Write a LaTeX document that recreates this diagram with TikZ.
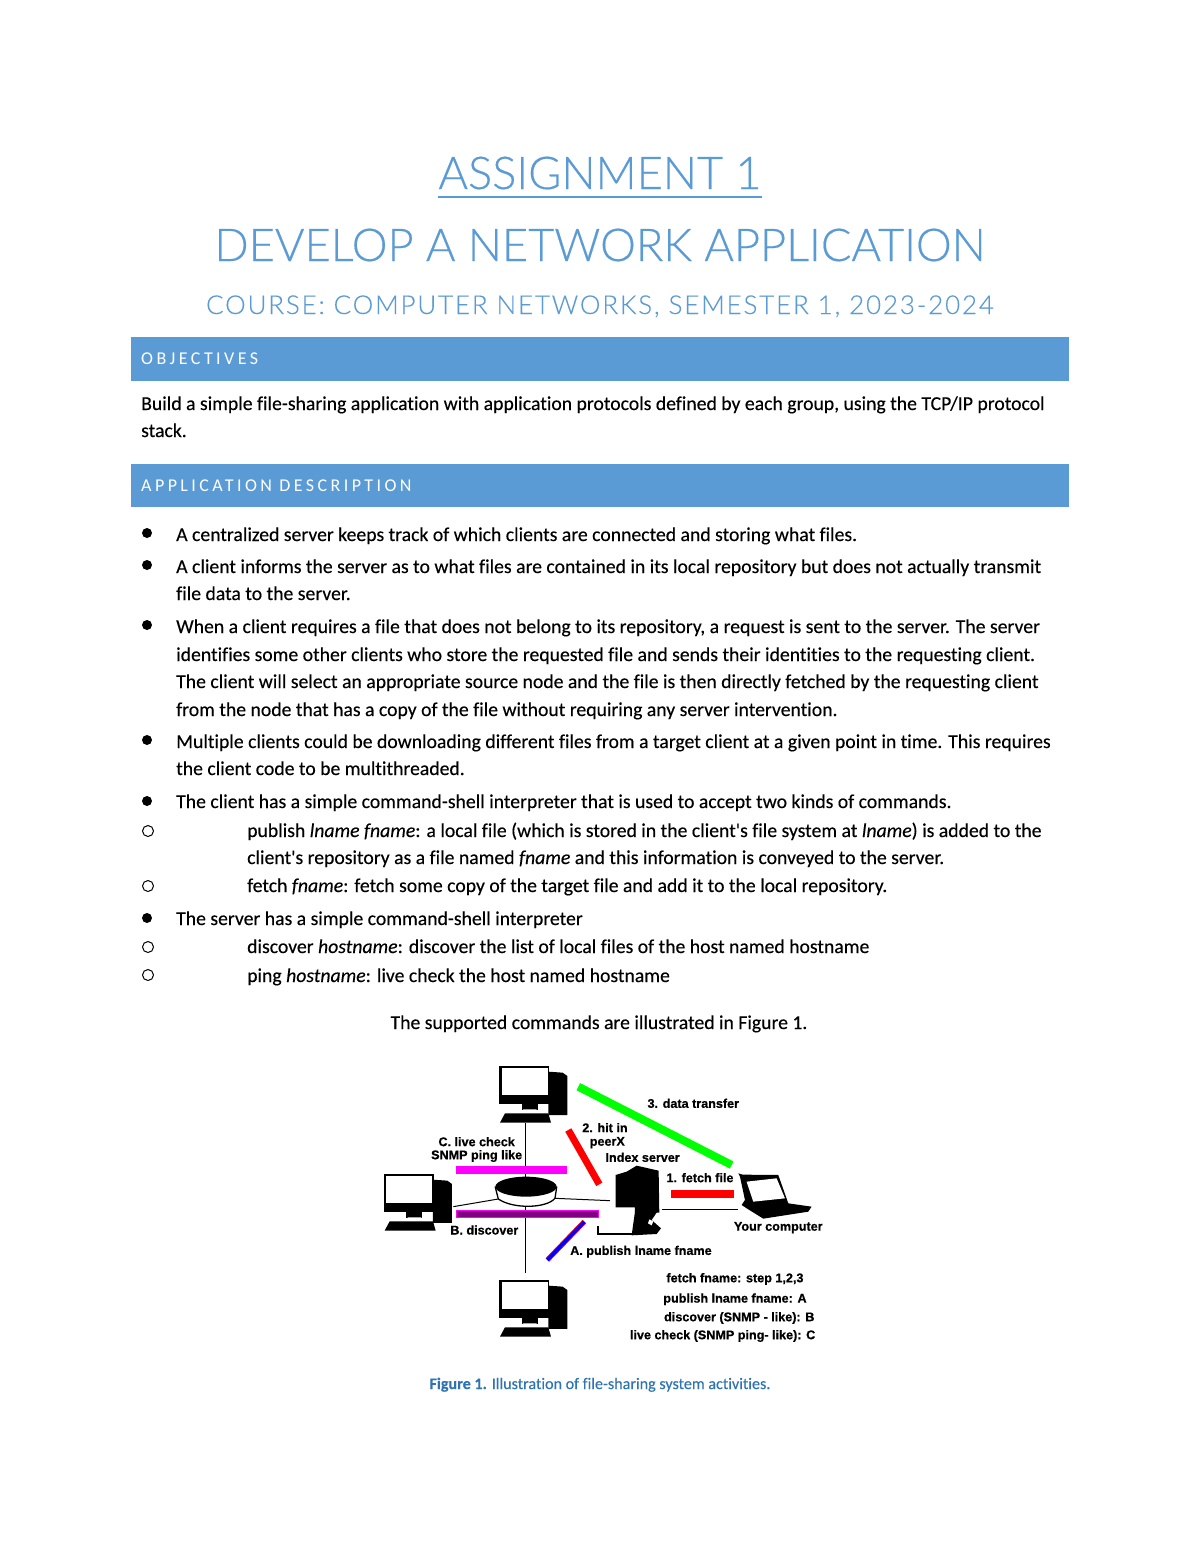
\documentclass[tikz,border=0pt]{standalone}
\usepackage{fontspec}
\setmainfont[FakeBold=0.25,Ligatures=NoCommon]{Carlito}
\newfontfamily\headfont[LetterSpace=19,Ligatures=NoCommon]{Carlito}
\newfontfamily\titlefont[FakeBold=0.4,Ligatures=NoCommon]{Lato Light}
\newfontfamily\courseFont[FakeBold=0.2,LetterSpace=7,Ligatures=NoCommon]{Lato Light}
\newfontfamily\figfont[BoldFeatures={FakeBold=0.6}]{Liberation Sans}
\definecolor{titleblue}{HTML}{2E74B5}
\definecolor{subblue}{HTML}{5B9BD5}
\definecolor{pureM}{HTML}{FF00FF}
\definecolor{pureP}{HTML}{800080}
\definecolor{pureG}{HTML}{00FF00}
\definecolor{pureR}{HTML}{FF0000}
\definecolor{pureB}{HTML}{0000FF}
\tikzset{
 x=1pt,y=-1pt,
 txt/.style={anchor=base west,inner sep=0pt,yshift=-1pt,font=\fontsize{19.7}{24}\selectfont},
 ttl/.style={anchor=base,inner sep=0pt,text=subblue},
 bandtext/.style={anchor=base west,inner sep=0pt,text=white,font=\fontsize{18}{22}\selectfont\headfont},
 band/.style={fill=subblue,draw=none},
 solidbul/.style={circle,fill=black,draw=none,minimum size=10pt,inner sep=0pt},
 openbul/.style={circle,fill=white,draw=black,line width=1pt,minimum size=11pt,inner sep=0pt},
 figlab/.style={inner sep=0pt,font=\fontsize{12.6}{15}\selectfont\figfont\bfseries},
 wire/.style={draw=black,line width=1pt},
 pics/computer/.style={code={
   \fill[black] (0,0) rectangle (150,114);
   \fill[white] (7,7) rectangle (145,87);
   \fill[black] (147,17) -- (190,20) -- (204,30) -- (204,147) -- (147,147) -- cycle;
   \fill[black] (67,114) rectangle (115,132);
   \fill[black] (2,170) -- (17,142) -- (147,142) -- (155,170) -- cycle;
   \fill[white] (70,130) -- (110,130) -- (122,138) -- (82,138) -- cycle;
   \coordinate (-bot) at (80,170);
   \coordinate (-top) at (80,-20);
   \coordinate (-right) at (208,98);
 }},
}
\begin{document}
\begin{tikzpicture}
\useasboundingbox (0,0) rectangle (1200,1553);
\fill[white] (0,0) rectangle (1200,1553);
% Titles
\node[ttl,font=\fontsize{45.2}{56}\selectfont\titlefont] (t1) at (600,189) {ASSIGNMENT 1};
\draw[subblue,line width=2pt] ([yshift=-8pt]t1.base west) -- ([yshift=-8pt]t1.base east);
\node[ttl,font=\fontsize{45.2}{56}\selectfont\titlefont] (t2) at (600,261) {DEVELOP A NETWORK APPLICATION};
\node[ttl,font=\fontsize{26}{34}\selectfont\courseFont] (t3) at (600,314) {COURSE: COMPUTER NETWORKS, SEMESTER 1, 2023-2024};
% Bands
\fill[band] (131,337) rectangle (1069,381);
\node[bandtext] (h1) at (141,364) {OBJECTIVES};
\fill[band] (131,464) rectangle (1069,507);
\node[bandtext] (h2) at (141,491) {APPLICATION DESCRIPTION};
% Text
\node[txt] (a1) at (141,409) {Build a simple file-sharing application with application protocols defined by each group, using the TCP/IP protocol};
\node[txt] (a2) at (141,436) {stack.};
\node[solidbul] (b1) at (147,533) {};
\node[txt] (l1) at (176,540) {A centralized server keeps track of which clients are connected and storing what files.};
\node[solidbul] (b2) at (147,565) {};
\node[txt] (l2) at (176,572) {A client informs the server as to what files are contained in its local repository but does not actually transmit};
\node[txt] (l3) at (176,599) {file data to the server.};
\node[solidbul] (b3) at (147,625) {};
\node[txt] (l4) at (176,632) {When a client requires a file that does not belong to its repository, a request is sent to the server. The server};
\node[txt] (l5) at (176,660) {identifies some other clients who store the requested file and sends their identities to the requesting client.};
\node[txt] (l6) at (176,687) {The client will select an appropriate source node and the file is then directly fetched by the requesting client};
\node[txt] (l7) at (176,715) {from the node that has a copy of the file without requiring any server intervention.};
\node[solidbul] (b4) at (147,740) {};
\node[txt] (l8) at (176,747) {Multiple clients could be downloading different files from a target client at a given point in time. This requires};
\node[txt] (l9) at (176,774) {the client code to be multithreaded.};
\node[solidbul] (b5) at (147,801) {};
\node[txt] (l10) at (176,807) {The client has a simple command-shell interpreter that is used to accept two kinds of commands.};
\node[openbul] (o1) at (148,831) {};
\node[txt] (l11) at (247,836) {publish \textit{lname fname}: a local file (which is stored in the client\textquotesingle s file system at \textit{lname}) is added to the};
\node[txt] (l12) at (247,863) {client\textquotesingle s repository as a file named \textit{fname} and this information is conveyed to the server.};
\node[openbul] (o2) at (148,886) {};
\node[txt] (l13) at (247,891) {fetch \textit{fname}: fetch some copy of the target file and add it to the local repository.};
\node[solidbul] (b6) at (147,918) {};
\node[txt] (l14) at (176,924) {The server has a simple command-shell interpreter};
\node[openbul] (o3) at (148,947) {};
\node[txt] (l15) at (247,952) {discover \textit{hostname}: discover the list of local files of the host named hostname};
\node[openbul] (o4) at (148,975) {};
\node[txt] (l16) at (247,981) {ping \textit{hostname}: live check the host named hostname};
\node[txt,anchor=base] (l17) at (599,1028) {The supported commands are illustrated in Figure 1.};
% Figure, in coordinates of a 3x crop
\begin{scope}[shift={(370,1050)},x=0.3333pt,y=-0.3333pt]
 \pic (pa) at (388,48) {computer};
 \pic (pb) at (42,372) {computer};
 \pic (pc) at (388,690) {computer};
 % hub
 \draw[black,line width=1.3pt,fill=white] (560,412) -- (555,445) .. controls (530,475) and (430,478) .. (385,447) -- (376,412) -- cycle;
 \fill[black] (468,410) ellipse[x radius=92,y radius=30];
 \coordinate (hubw) at (385,447);
 \coordinate (hube) at (555,445);
 \coordinate (hubt) at (468,380);
 \coordinate (hubb) at (468,470);
 % server
 \fill[black] (737,375) -- (770,365) -- (800,347) -- (866,362) -- (868,488) -- (795,488) -- (795,472) -- (737,472) -- cycle;
 \fill[black] (795,485) -- (862,485) -- (845,510) -- (873,535) -- (860,552) -- (785,556) -- cycle;
 \fill[white] (838,508) -- (850,514) -- (845,526) -- (834,520) -- cycle;
 \draw[black,line width=1.7pt] (685,527) -- (685,553) -- (785,553);
 \coordinate (srvw) at (720,452);
 \coordinate (srve) at (875,478);
 % laptop
 \fill[black] (1105,370) -- (1118,374) -- (1225,375) -- (1255,460) -- (1325,470) -- (1315,485) -- (1180,506) -- (1130,475) -- (1115,465) -- (1125,450) -- (1110,380) -- cycle;
 \fill[white] (1130,395) -- (1220,385) -- (1245,445) -- (1150,455) -- cycle;
 \coordinate (lapw) at (1105,478);
 % wires
 \draw[wire] (pa-bot) -- (hubt);
 \draw[wire] (hubb) -- (pc-top);
 \draw[wire] (pb-right) -- (hubw);
 \draw[wire] (hube) -- (srvw);
 \draw[wire] (srve) -- (lapw);
 % coloured bars
 \coordinate (ga) at (625,110); \coordinate (gb) at (1085,345);
 \coordinate (ra) at (595,240); \coordinate (rb) at (688,403);
 \coordinate (ba) at (532,630); \coordinate (bb) at (643,515);
 \fill[pureM] (258,348) rectangle (592,373);
 \fill[pureM] (258,480) rectangle (686,505);
 \fill[pureP] (261,483) rectangle (683,502);
 \draw[pureG,line width=8pt] (ga) -- (gb);
 \draw[pureR,line width=7pt] (ra) -- (rb);
 \fill[pureR] (902,421) rectangle (1092,445);
 \draw[pureR,line width=5pt] (ba) -- (bb);
 \draw[pureB,line width=3.4pt] (ba) -- (bb);
 % labels
 \node[figlab] (f1) at (970,160) {3. data transfer};
 \node[figlab] (f2) at (705,233) {2. hit in};
 \node[figlab] (f3) at (712,278) {peerX};
 \node[figlab] (f4) at (320,275) {C. live check};
 \node[figlab] (f5) at (320,318) {SNMP ping like};
 \node[figlab] (f6) at (818,322) {Index server};
 \node[figlab] (f7) at (990,383) {1. fetch file};
 \node[figlab] (f8) at (1225,533) {Your computer};
 \node[figlab] (f9) at (343,540) {B. discover};
 \node[figlab] (f10) at (813,605) {A. publish lname fname};
 \node[figlab] (f11) at (1095,687) {fetch fname: step 1,2,3};
 \node[figlab] (f12) at (1095,748) {publish lname fname: A};
 \node[figlab] (f13) at (1108,804) {discover (SNMP - like): B};
 \node[figlab] (f14) at (1058,858) {live check (SNMP ping- like): C};
\end{scope}
\node[anchor=base,inner sep=0pt,text=titleblue,font=\fontsize{16.1}{18}\selectfont] (cap) at (600,1389) {\textbf{Figure 1.} Illustration of file-sharing system activities.};
\end{tikzpicture}
\end{document}
